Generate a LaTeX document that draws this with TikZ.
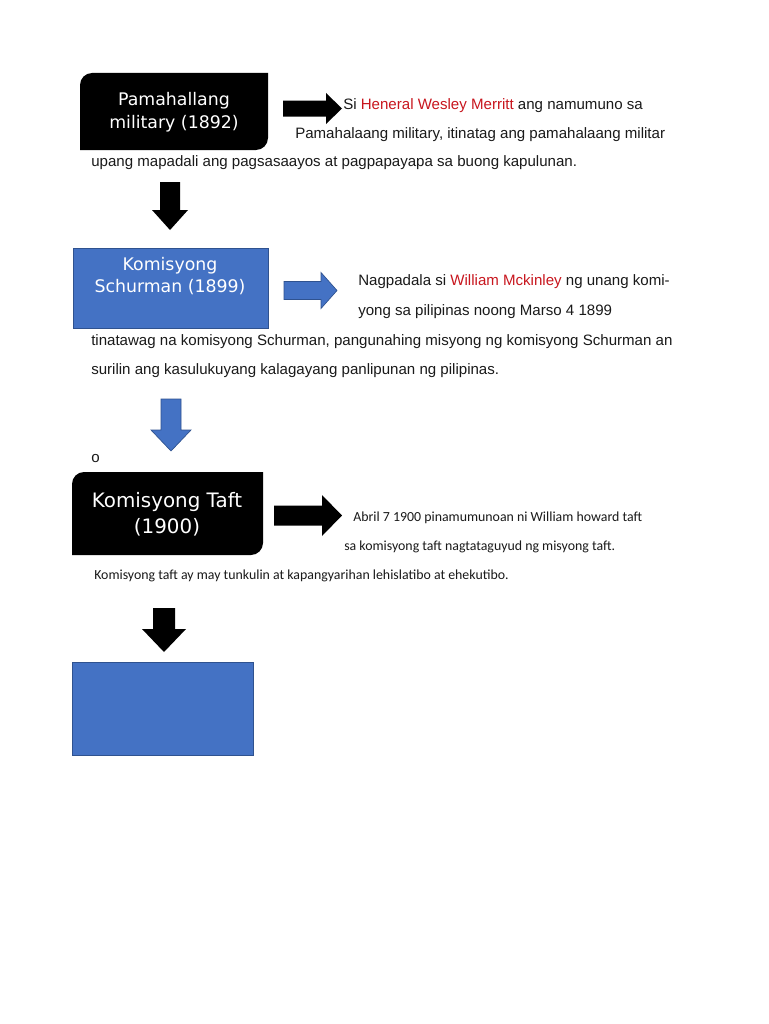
\documentclass[tikz,border=0pt]{standalone}
\usepackage{fontspec}
\setmainfont{Liberation Sans}
\newfontfamily\dejavu{DejaVu Sans}
\newfontfamily\calibri{Carlito}
\definecolor{boxblue}{HTML}{4472C4}
\definecolor{bordblue}{HTML}{2F528F}
\definecolor{txtred}{HTML}{C8161E}
\definecolor{txt}{HTML}{1A1A1A}
% right block arrow: style, x1, x2, yc, shaft half, head half, head start x
\newcommand\rarr[7]{\path[#1] (#2,#4-#5) -- (#7,#4-#5) -- (#7,#4-#6) -- (#3,#4) -- (#7,#4+#6) -- (#7,#4+#5) -- (#2,#4+#5) -- cycle;}
% down block arrow: style, xc, y1, y2, shaft half, head half, head start y
\newcommand\darr[7]{\path[#1] (#2-#5,#3) -- (#2+#5,#3) -- (#2+#5,#7) -- (#2+#6,#7) -- (#2,#4) -- (#2-#6,#7) -- (#2-#5,#7) -- cycle;}
% black box with rounded top-left and bottom-right corners: x1,y1,x2,y2
\newcommand\snipbox[4]{\fill[black] (#1,#4) -- (#1,#2+12) .. controls (#1,#2+5.4) and (#1+5.4,#2) .. (#1+12,#2) -- (#3,#2) -- (#3,#4-12) .. controls (#3,#4-5.4) and (#3-5.4,#4) .. (#3-12,#4) -- cycle;}
\begin{document}
\begin{tikzpicture}[x=0.75pt,y=-0.75pt,
  body/.style={anchor=base west, inner sep=0, font=\fontsize{11.3}{13}\selectfont, text=txt},
  small/.style={anchor=base west, inner sep=0, font=\calibri\fontsize{10.4}{12}\selectfont, text=txt},
  boxtext/.style={align=center, text=white, inner sep=0},
  bluebox/.style={fill=boxblue, draw=bordblue, line width=0.5pt},
  blackarrow/.style={fill=black},
  bluearrow/.style={fill=boxblue, draw=bordblue, line width=0.5pt}]
\useasboundingbox (0,0) rectangle (768,1024);
\fill[white] (0,0) rectangle (768,1024);

% box 1
\snipbox{80}{73}{268}{150}
\node[boxtext, font=\dejavu\fontsize{13}{17.3}\selectfont] (b1) at (174,112.5) {Pamahallang\\military (1892)};
\rarr{blackarrow}{283}{342}{108.5}{8}{15.5}{326}
\node[body] (t1a) at (343,109) {Si \textcolor{txtred}{Heneral Wesley Merritt} ang namumuno sa};
\node[body] (t1b) at (295,138) {Pamahalaang military, itinatag ang pamahalaang militar};
\node[body] (t1c) at (91,166) {upang mapadali ang pagsasaayos at pagpapayapa sa buong kapulunan.};
\darr{blackarrow}{170}{182}{230}{10}{18}{210}

% box 2
\path[bluebox] (73,248) rectangle (268,328);
\node[boxtext, font=\dejavu\fontsize{13}{16.5}\selectfont] (b2) at (170,276) {Komisyong\\Schurman (1899)};
\rarr{bluearrow}{284}{337}{290.5}{9}{18}{321}
\node[body] (t2a) at (358,285) {Nagpadala si \textcolor{txtred}{William Mckinley} ng unang komi-};
\node[body] (t2b) at (358,315) {yong sa pilipinas noong Marso 4 1899};
\node[body] (t2c) at (91,345) {tinatawag na komisyong Schurman, pangunahing misyong ng komisyong Schurman an};
\node[body] (t2d) at (91,374) {surilin ang kasulukuyang kalagayang panlipunan ng pilipinas.};
\darr{bluearrow}{171}{399}{451}{10}{20}{430}
\node[body] (o) at (91,462) {o};

% box 3
\snipbox{72}{472}{263}{555}
\node[boxtext, font=\dejavu\fontsize{14.9}{19.5}\selectfont] (b3) at (167,514) {Komisyong Taft\\(1900)};
\rarr{blackarrow}{274}{342}{515.5}{10}{20.5}{322}
\node[small] (t3a) at (353,521) {Abril 7 1900 pinamumunoan ni William howard taft};
\node[small] (t3b) at (344,550) {sa komisyong taft nagtataguyud ng misyong taft.};
\node[small] (t3c) at (94,579) {Komisyong taft ay may tunkulin at kapangyarihan lehislatibo at ehekutibo.};
\darr{blackarrow}{164}{608}{652}{11}{22}{629}

% box 4
\path[bluebox] (72,662) rectangle (253,755);
\end{tikzpicture}
\end{document}
